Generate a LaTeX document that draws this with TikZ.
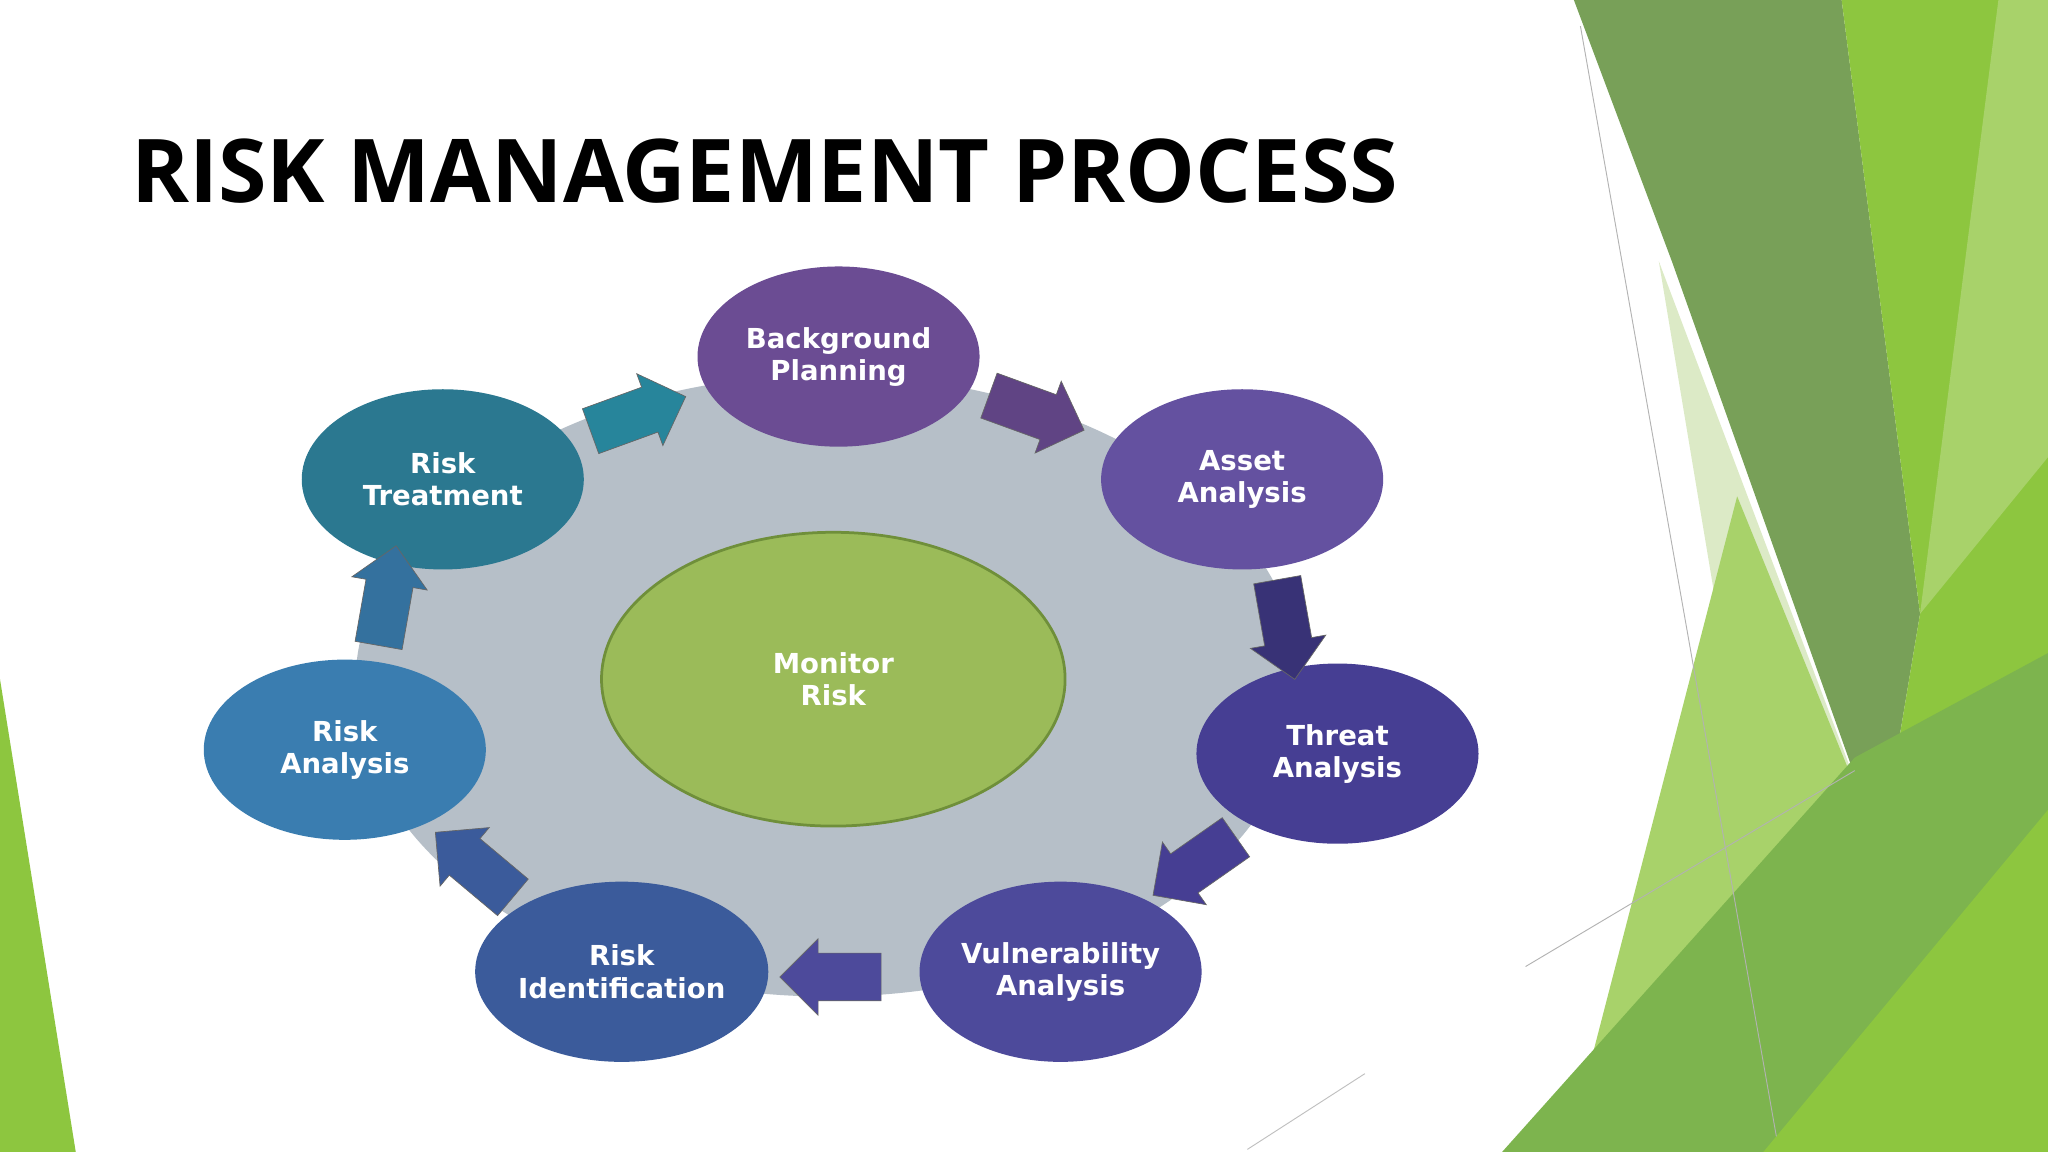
\documentclass[tikz,border=0pt]{standalone}
\usepackage{fontspec}
\setmainfont{DejaVu Sans}
\newfontfamily\titlefont{Open Sans}
\usetikzlibrary{shapes.arrows,shapes.geometric}
\definecolor{gbg}{HTML}{B6BFC8}
\definecolor{gmid}{HTML}{9BBB59}
\definecolor{gedge}{HTML}{6F8F3A}
\definecolor{cbp}{HTML}{6B4C93}
\definecolor{caa}{HTML}{6451A0}
\definecolor{cta}{HTML}{463E93}
\definecolor{cva}{HTML}{4D4A9B}
\definecolor{cri}{HTML}{3B5B9B}
\definecolor{cra}{HTML}{3A7DB0}
\definecolor{crt}{HTML}{2B7890}
\definecolor{dkg}{HTML}{78A058}
\definecolor{brg}{HTML}{8DC63F}
\definecolor{ltg}{HTML}{A8D26A}
\definecolor{plg}{HTML}{DCEAC6}
\definecolor{mdg}{HTML}{7DB44E}
\tikzset{
  stage/.style={ellipse,minimum width=4.32cm,minimum height=2.76cm,inner sep=0pt,
    text=white,font=\bfseries\fontsize{12}{14}\selectfont,align=center},
  flow/.style={single arrow,minimum height=1.55cm,inner sep=0pt,
    single arrow head extend=0.22cm,draw=black!60,line width=0.3pt}
}
\newcommand{\shaft}{\rule{0pt}{0.72cm}}
\begin{document}
\begin{tikzpicture}[x=0.02cm,y=-0.02cm]
\useasboundingbox (0,0) rectangle (1568,882);
\fill[white] (0,0) rectangle (1568,882);
% background decoration
\fill[dkg] (1205,0) -- (1410,0) -- (1470,470) -- (1440,650) -- (1280,200) -- cycle;
\fill[plg] (1270,200) -- (1440,650) -- (1300,882) -- (1240,882) -- (1330,560) -- cycle;
\fill[ltg] (1330,380) -- (1440,650) -- (1300,882) -- (1200,882) -- cycle;
\fill[brg] (1410,0) -- (1568,0) -- (1568,882) -- (1440,650) -- (1470,470) -- cycle;
\fill[ltg] (1530,0) -- (1568,0) -- (1568,350) -- (1470,470) -- cycle;
\fill[mdg] (1150,882) -- (1420,580) -- (1568,500) -- (1568,882) -- cycle;
\fill[brg] (1568,620) -- (1568,882) -- (1350,882) -- cycle;
\fill[brg] (0,520) -- (58,882) -- (0,882) -- cycle;
\draw[gray!60,line width=0.4pt] (1210,20) -- (1360,870);
\draw[gray!60,line width=0.4pt] (1168,740) -- (1420,590);
\draw[gray!50,line width=0.4pt] (955,880) -- (1045,822);
% title
\node[anchor=base west,inner sep=0pt] (title) at (100,155)
  {\resizebox{19.4cm}{!}{\titlefont\bfseries RISK MANAGEMENT PROCESS}};
% diagram
\fill[gbg] (634,525) ellipse [x radius=362, y radius=238];
\node[ellipse,fill=gmid,draw=gedge,line width=1.2pt,minimum width=7.1cm,minimum height=4.5cm,
  text=white,font=\bfseries\fontsize{12}{14}\selectfont,align=center] (mon) at (638,520) {Monitor\\Risk};
\node[stage,fill=cbp] (bp) at (642,273) {Background\\Planning};
\node[stage,fill=caa] (aa) at (951,367) {Asset\\Analysis};
\node[stage,fill=cta] (ta) at (1024,577) {Threat\\Analysis};
\node[stage,fill=cva] (va) at (812,744) {Vulnerability\\Analysis};
\node[stage,fill=cri] (ri) at (476,744) {Risk\\Identification};
\node[stage,fill=cra] (ra) at (264,574) {Risk\\Analysis};
\node[stage,fill=crt] (rt) at (339,367) {Risk\\Treatment};
\node[flow,fill=cbp!90!black,rotate=-20] (a1) at (785,313) {\shaft};
\node[flow,fill=cta!80!black,rotate=-80] (a2) at (983,473) {\shaft};
\node[flow,fill=cta,rotate=-145] (a3) at (922,658) {\shaft};
\node[flow,fill=cva,rotate=180] (a4) at (645,748) {\shaft};
\node[flow,fill=cri,rotate=140] (a5) at (370,668) {\shaft};
\node[flow,fill=cra!90!black,rotate=80] (a6) at (295,465) {\shaft};
\node[flow,fill=crt!90!cyan,rotate=20] (a7) at (480,320) {\shaft};
\end{tikzpicture}
\end{document}
